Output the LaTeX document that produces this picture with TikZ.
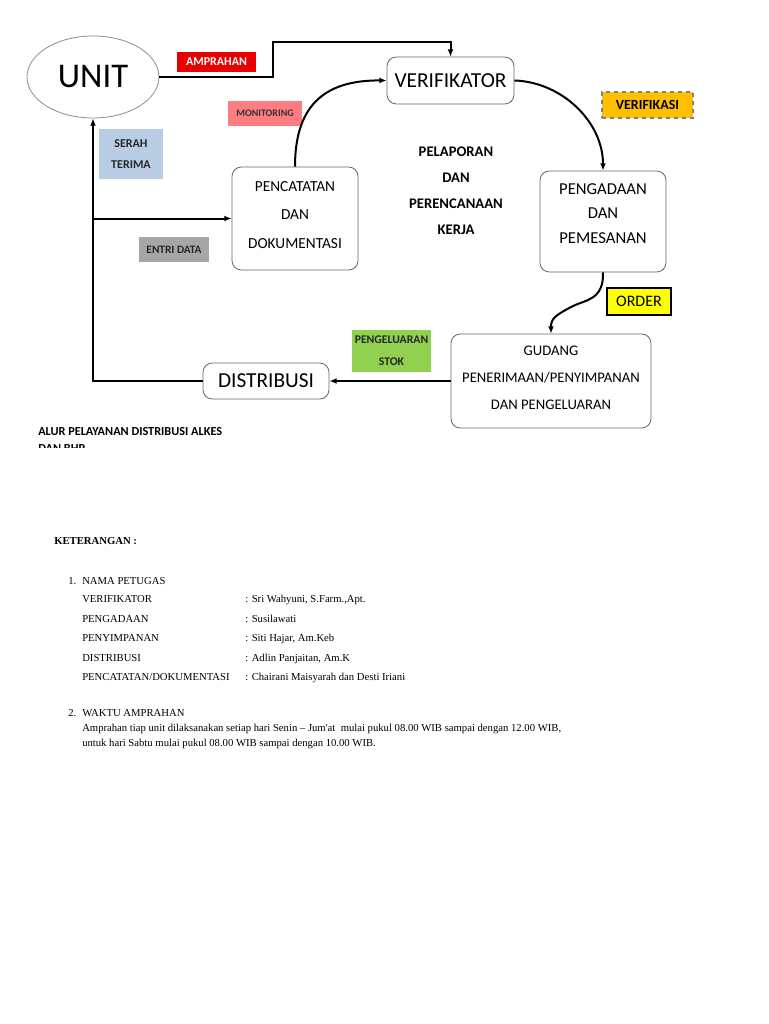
\documentclass[tikz,border=0pt]{standalone}
\usepackage{fontspec}
\setmainfont{Carlito}
\newfontfamily\tms{Liberation Serif}
\usetikzlibrary{shapes.geometric,arrows.meta}
\definecolor{ampred}{RGB}{232,0,0}
\definecolor{monred}{RGB}{255,124,128}
\definecolor{serahblue}{RGB}{184,204,228}
\definecolor{entrigray}{RGB}{166,166,166}
\definecolor{verorange}{RGB}{255,192,0}
\definecolor{ordyellow}{RGB}{255,255,0}
\definecolor{pengreen}{RGB}{146,208,80}
\begin{document}
\begin{tikzpicture}[x=0.75pt,y=-0.75pt,
  conn/.style={line width=1.5pt,-{Latex[length=5.5pt,width=4.5pt]}},
  box/.style={draw=black!60,line width=0.6pt,rounded corners=7pt,fill=white,inner sep=0pt},
  tag/.style={inner sep=0pt,align=center,font=\bfseries\fontsize{9}{15.75}\selectfont},
  txt/.style={inner sep=0pt,align=center},
  tline/.style={inner sep=0pt,anchor=base west,font=\tms\fontsize{8}{9}\selectfont},
]
\useasboundingbox[fill=white] (0,0) rectangle (768,1024);

% main nodes
\node[draw=black!45,line width=0.6pt,ellipse,minimum width=99pt,minimum height=61.5pt,inner sep=0pt,font=\fontsize{26}{30}\selectfont] (unit) at (93,77) {UNIT};
\node[box,minimum width=95.25pt,minimum height=35.25pt,font=\fontsize{16}{19}\selectfont] (verif) at (450.5,80.5) {VERIFIKATOR};
\node[box,minimum width=94.5pt,minimum height=77.25pt] (penc) at (295,218.5) {};
\node[txt,font=\fontsize{11.5}{21.4}\selectfont] (penctxt) at (295,215) {PENCATATAN\\DAN\\DOKUMENTASI};
\node[box,minimum width=94.5pt,minimum height=75.75pt] (peng) at (603,221.5) {};
\node[txt,font=\fontsize{12.5}{18.4}\selectfont] (pengtxt) at (603,213.5) {PENGADAAN\\DAN\\PEMESANAN};
\node[box,minimum width=150pt,minimum height=70.5pt] (gudang) at (551,381) {};
\node[txt,font=\fontsize{11}{20.25}\selectfont] (gudtxt) at (551,378) {GUDANG\\PENERIMAAN/PENYIMPANAN\\DAN PENGELUARAN};
\node[box,minimum width=94.5pt,minimum height=27pt,font=\fontsize{16}{19}\selectfont] (distr) at (266,381) {DISTRIBUSI};

% tags
\node[tag,fill=ampred,text=white,minimum width=59.25pt,minimum height=15pt] (amp) at (216.5,62) {AMPRAHAN};
\node[tag,fill=monred,text=black!80,minimum width=55.5pt,minimum height=18.75pt,font=\bfseries\fontsize{7.5}{9}\selectfont] (mon) at (265,113.5) {MONITORING};
\node[tag,fill=serahblue,text=black!85,minimum width=48pt,minimum height=37.5pt] (serah) at (131,154) {SERAH\\TERIMA};
\node[tag,fill=entrigray,text=black!85,minimum width=52.5pt,minimum height=18.75pt,font=\bfseries\fontsize{8.5}{10}\selectfont] (entri) at (174,249.5) {ENTRI DATA};
\node[tag,fill=verorange,draw=black!50,dashed,line width=0.8pt,minimum width=68.25pt,minimum height=19.5pt,font=\bfseries\fontsize{10.5}{12}\selectfont] (verk) at (647.5,105) {VERIFIKASI};
\node[tag,fill=ordyellow,draw=black,line width=1pt,minimum width=48pt,minimum height=20.25pt,font=\fontsize{12}{14}\selectfont] (order) at (639,301.5) {ORDER};
\node[tag,fill=pengreen,text=black!85,minimum width=59.25pt,minimum height=31.5pt,font=\bfseries\fontsize{8.8}{16.5}\selectfont] (pengel) at (391.5,351) {PENGELUARAN\\STOK};
\node[txt,font=\bfseries\fontsize{11}{19.5}\selectfont] (lapor) at (456,191) {PELAPORAN\\DAN\\PERENCANAAN\\KERJA};

% connectors
\coordinate (b1) at (273,77);
\coordinate (b2) at (273,42);
\draw[conn] (unit.east) -- (b1) -- (b2) -| (verif.north);
\draw[conn] (distr.west) -| (unit.south);
\coordinate (br) at (unit.south |- penc.west);
\draw[conn] (br) -- (penc.west);
\draw[conn] (penc.north) .. controls (295,108) and (322,80) .. (verif.west);
\draw[conn] (verif.east) .. controls (562,82) and (603,122) .. (peng.north);
\coordinate (sm) at (573,306);
\draw[conn] (peng.south) .. controls (604,300) and (585,300) .. (sm) .. controls (556,315) and (551,318) .. (gudang.north);
\draw[conn] (gudang.west) -- (distr.east);

% caption
\node[inner sep=0pt,anchor=west,font=\bfseries\fontsize{9.2}{10}\selectfont] (alur) at (38,432) {ALUR PELAYANAN DISTRIBUSI ALKES};
\begin{scope}
\clip (0,440) rectangle (300,447);
\node[inner sep=0pt,anchor=west,font=\bfseries\fontsize{9.2}{10}\selectfont] (bhp) at (38,449) {DAN BHP};
\end{scope}

% keterangan
\node[tline,font=\tms\bfseries\fontsize{8}{9}\selectfont] (ket) at (54,544.5) {KETERANGAN :};
\node[tline] (n1) at (68,584.5) {1.};
\node[tline] (h1) at (82,584.5) {NAMA PETUGAS};
\node[tline] (r1) at (82,602.5) {VERIFIKATOR};
\node[tline] (v1) at (245,602.5) {: Sri Wahyuni, S.Farm.,Apt.};
\node[tline] (r2) at (82,622.5) {PENGADAAN};
\node[tline] (v2) at (245,622.5) {: Susilawati};
\node[tline] (r3) at (82,641.5) {PENYIMPANAN};
\node[tline] (v3) at (245,641.5) {: Siti Hajar, Am.Keb};
\node[tline] (r4) at (82,661.5) {DISTRIBUSI};
\node[tline] (v4) at (245,661.5) {: Adlin Panjaitan, Am.K};
\node[tline] (r5) at (82,680.5) {PENCATATAN/DOKUMENTASI};
\node[tline] (v5) at (245,680.5) {: Chairani Maisyarah dan Desti Iriani};
\node[tline] (n2) at (68,716.5) {2.};
\node[tline] (h2) at (82,716.5) {WAKTU AMPRAHAN};
\node[tline] (w1) at (82,731.5) {Amprahan tiap unit dilaksanakan setiap hari Senin – Jum'at\ \ mulai pukul 08.00 WIB sampai dengan 12.00 WIB,};
\node[tline] (w2) at (82,746.5) {untuk hari Sabtu mulai pukul 08.00 WIB sampai dengan 10.00 WIB.};
\end{tikzpicture}
\end{document}
